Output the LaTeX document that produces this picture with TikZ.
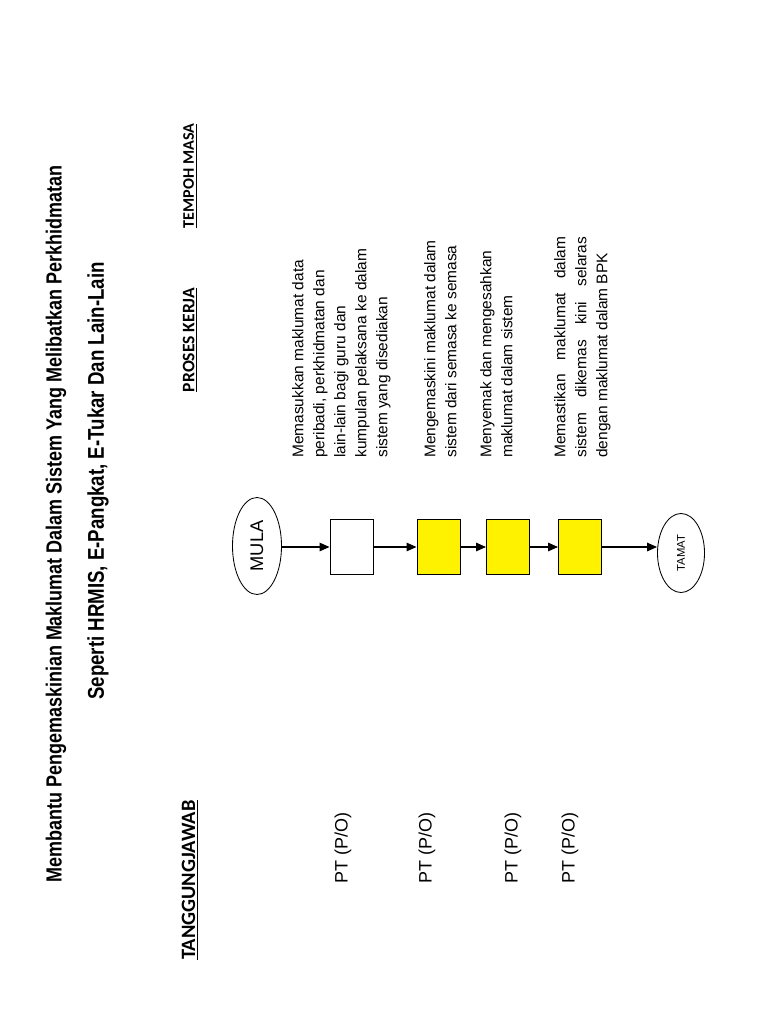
\documentclass[tikz,border=0pt]{standalone}
\usepackage{fontspec}
\setmainfont{Liberation Sans}
\newfontfamily\titlefont[FakeStretch=0.82]{Liberation Sans}
\newfontfamily\headfont{Carlito}
\usetikzlibrary{shapes.geometric, arrows.meta, positioning}

\tikzset{
  stepbox/.style={draw, line width=0.7pt, minimum width=1.075cm, minimum height=1.375cm, inner sep=0pt},
  endpoint/.style={draw, ellipse, line width=0.6pt, inner sep=0pt},
  flow/.style={-{Triangle[length=7pt, width=6pt]}, line width=0.8pt},
  vtext/.style={rotate=90, inner sep=0pt},
  proses/.style={vtext, anchor=north west, align=left, font=\fontsize{11}{14.9}\selectfont},
  head/.style={vtext, font=\headfont\bfseries\fontsize{12.5}{15}\selectfont},
  pt/.style={vtext, font=\fontsize{12.8}{15}\selectfont}
}

\begin{document}
\begin{tikzpicture}[x=0.025cm, y=-0.025cm]
    \useasboundingbox[fill=white] (0,0) rectangle (768,1024);

    % Title
    \node[vtext, font=\titlefont\bfseries\fontsize{15.6}{18}\selectfont] (title1) at (56,524)
        {Membantu Pengemaskinian Maklumat Dalam Sistem Yang Melibatkan Perkhidmatan};
    \node[vtext, font=\titlefont\bfseries\fontsize{16.2}{18}\selectfont] (title2) at (98,481)
        {Seperti HRMIS, E-Pangkat, E-Tukar Dan Lain-Lain};

    % Column headings
    \node[head, font=\headfont\bfseries\fontsize{14.5}{16}\selectfont] (tanggung) at (190,880) {\underline{TANGGUNGJAWAB}};
    \node[head] (proses) at (190,340) {\underline{PROSES KERJA}};
    \node[head, font=\headfont\bfseries\fontsize{11.5}{14}\selectfont] (tempoh) at (190,176) {\underline{TEMPOH MASA}};

    % Flow chart
    \node[endpoint, minimum width=1.225cm, minimum height=2.425cm] (mula) at (257,546)
        {\rotatebox{90}{\fontsize{13}{15}\selectfont MULA}};
    \node[stepbox] (box1) at (351.5,547) {};
    \node[stepbox, fill=yellow] (box2) at (438.5,547) {};
    \node[stepbox, fill=yellow] (box3) at (508,547) {};
    \node[stepbox, fill=yellow] (box4) at (580,547) {};
    \node[endpoint, minimum width=1.175cm, minimum height=1.975cm] (tamat) at (681,553)
        {\rotatebox{90}{\fontsize{8}{10}\selectfont TAMAT}};

    \draw[flow] (mula.east |- box1.west) -- (box1.west);
    \draw[flow] (box1.east) -- (box2.west);
    \draw[flow] (box2.east) -- (box3.west);
    \draw[flow] (box3.east) -- (box4.west);
    \draw[flow] (box4.east) -- (box4.east -| tamat.west);

    % Process descriptions
    \node[proses] (kerja1) at (292,458)
        {Memasukkan maklumat data\\peribadi, perkhidmatan dan\\lain-lain bagi guru dan\\kumpulan pelaksana ke dalam\\sistem yang disediakan};
    \node[proses] (kerja2) at (424,458)
        {Mengemaskini maklumat dalam\\sistem dari semasa ke semasa};
    \node[proses] (kerja3) at (480,458)
        {Menyemak dan mengesahkan\\maklumat dalam sistem};
    \node[proses, text width=5.525cm, align=justify] (kerja4) at (554,458)
        {Memastikan maklumat dalam sistem dikemas kini selaras dengan maklumat dalam BPK};

    % Responsibility
    \node[pt] (pt1) at (343,848) {PT (P/O)};
    \node[pt] (pt2) at (427,848) {PT (P/O)};
    \node[pt] (pt3) at (513,848) {PT (P/O)};
    \node[pt] (pt4) at (570,848) {PT (P/O)};
\end{tikzpicture}
\end{document}
